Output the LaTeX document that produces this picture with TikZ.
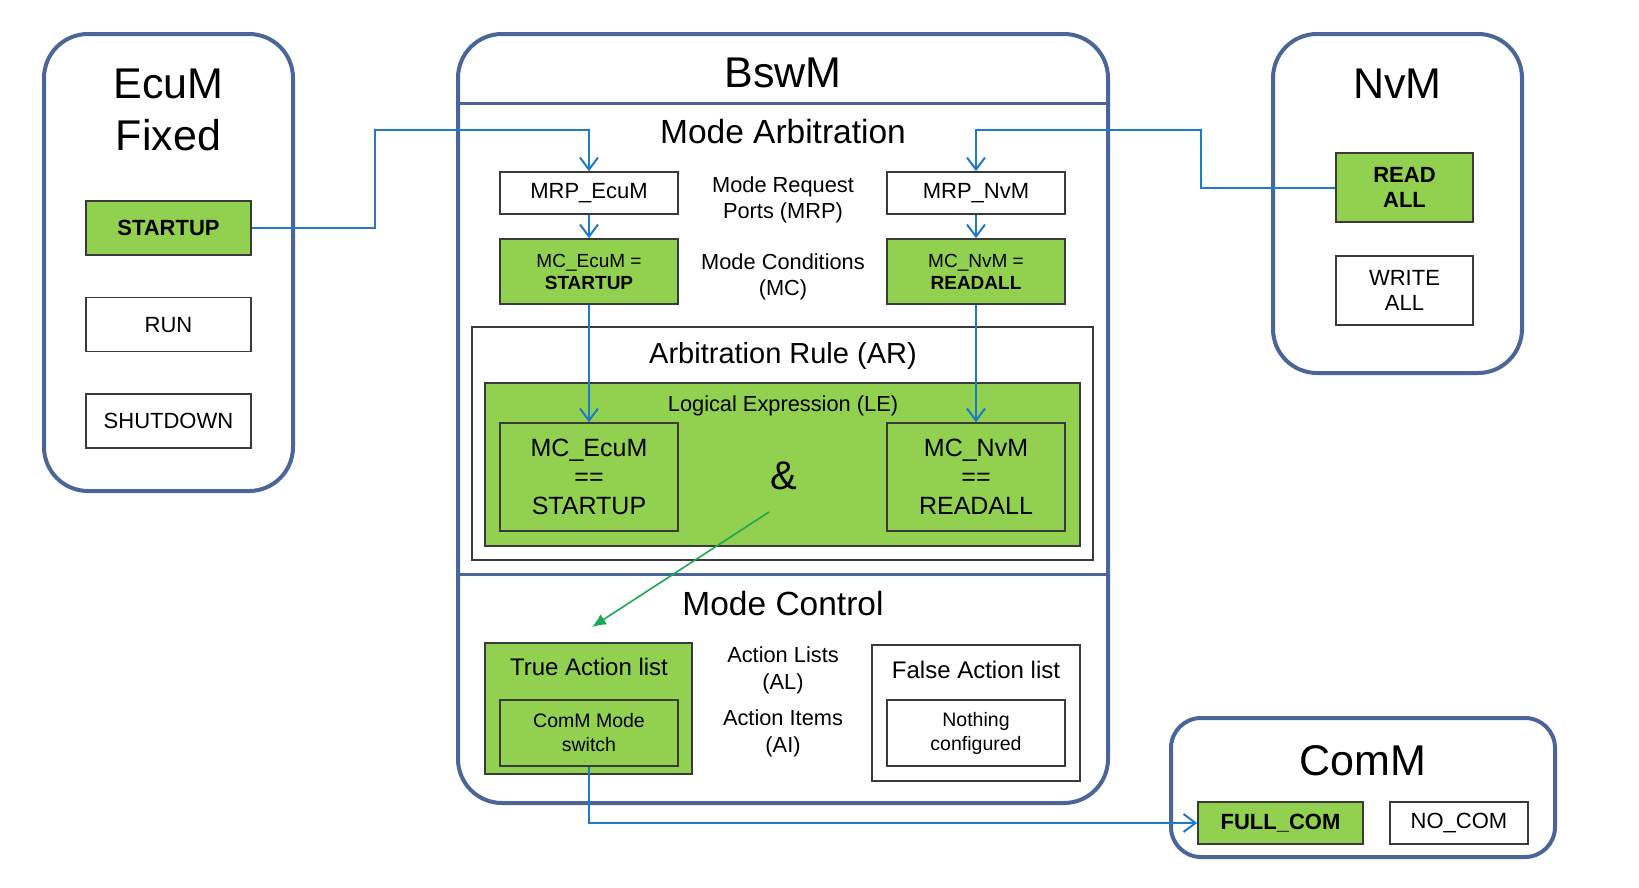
\documentclass[tikz,border=0pt]{standalone}
\usepackage{fontspec}
\setmainfont{Liberation Sans}
\usetikzlibrary{arrows.meta, positioning, calc}
\definecolor{modblue}{HTML}{4A6699}
\definecolor{linkblue}{HTML}{1F7AC9}
\definecolor{actgreen}{HTML}{92D050}
\definecolor{edgegray}{HTML}{3A3A3A}
\definecolor{exprgreen}{HTML}{1AAA55}

\begin{document}
\begin{tikzpicture}[
    x=1pt, y=-1pt,
    module/.style={draw=modblue, line width=4pt, rounded corners=44pt, inner sep=0pt},
    statebox/.style={draw=edgegray, line width=1.6pt, fill=white, inner sep=0pt, align=center, font=\fontsize{22}{25}\selectfont},
    activebox/.style={statebox, fill=actgreen},
    title/.style={font=\fontsize{43}{52}\selectfont, align=center},
    heading/.style={font=\fontsize{33.5}{38}\selectfont},
    caption/.style={font=\fontsize{21.8}{26}\selectfont, align=center},
    link/.style={draw=linkblue, line width=2pt, -{Straight Barb[length=12pt, width=18pt, line width=2pt]}}
]
    \useasboundingbox (0,0) rectangle (1639,887);

    % EcuM Fixed
    \node[module, minimum width=249pt, minimum height=457pt] (ecum) at (168.5,262.5) {};
    \node[title] (ecumtitle) at (168.5,110) {EcuM\\Fixed};
    \node[activebox, minimum width=165pt, minimum height=54pt] (startup) at (168.5,228) {\textbf{STARTUP}};
    \node[statebox, minimum width=165pt, minimum height=54pt, below=41pt of startup] (run) {RUN};
    \node[statebox, minimum width=165pt, minimum height=54pt, below=41pt of run] (shutdown) {SHUTDOWN};

    % BswM
    \node[module, minimum width=650pt, minimum height=769pt] (bswm) at (783,418.5) {};
    \node[title] (bswmtitle) at (783,73) {BswM};
    \coordinate (sepa) at (0,103);
    \coordinate (sepb) at (0,574);
    \draw[modblue, line width=3pt] (bswm.west |- sepa) -- (bswm.east |- sepa);
    \draw[modblue, line width=3pt] (bswm.west |- sepb) -- (bswm.east |- sepb);

    % mode arbitration
    \node[heading] (arbtitle) at (783,132) {Mode Arbitration};
    \node[statebox, minimum width=178pt, minimum height=42pt] (mrpecum) at (589,193) {MRP\_EcuM};
    \node[statebox, minimum width=178pt, minimum height=42pt] (mrpnvm) at (976,193) {MRP\_NvM};
    \node[caption] (mrplabel) at (783,200) {Mode Request\\Ports (MRP)};
    \node[activebox, minimum width=178pt, minimum height=65pt, font=\fontsize{19}{22}\selectfont] (mcecum) at (589,271.5) {MC\_EcuM =\\\textbf{STARTUP}};
    \node[activebox, minimum width=178pt, minimum height=65pt, font=\fontsize{19}{22}\selectfont] (mcnvm) at (976,271.5) {MC\_NvM =\\\textbf{READALL}};
    \node[caption] (mclabel) at (783,277) {Mode Conditions\\(MC)};

    \node[statebox, minimum width=621pt, minimum height=233pt] (arbox) at (782.5,443.5) {};
    \node[font=\fontsize{29}{34}\selectfont] (artitle) at (783,356) {Arbitration Rule (AR)};
    \node[activebox, minimum width=595pt, minimum height=163pt] (lebox) at (782.5,464.5) {};
    \node[caption] (letitle) at (783,406) {Logical Expression (LE)};
    \node[activebox, minimum width=178pt, minimum height=108pt, font=\fontsize{25}{29}\selectfont] (leecum) at (589,477) {MC\_EcuM\\==\\STARTUP};
    \node[activebox, minimum width=178pt, minimum height=108pt, font=\fontsize{25}{29}\selectfont] (lenvm) at (976,477) {MC\_NvM\\==\\READALL};
    \node[font=\fontsize{40}{48}\selectfont] (andsign) at (784,476) {\&};

    % mode control
    \node[heading] (ctrltitle) at (783,604) {Mode Control};
    \node[activebox, minimum width=207pt, minimum height=131pt] (truelist) at (588.5,708.5) {};
    \node[font=\fontsize{24}{28}\selectfont] (truetitle) at (589,667) {True Action list};
    \node[activebox, minimum width=178pt, minimum height=66pt, font=\fontsize{19.5}{24}\selectfont] (commswitch) at (589,733) {ComM Mode\\switch};
    \node[statebox, minimum width=208pt, minimum height=136pt] (falselist) at (976,713) {};
    \node[font=\fontsize{24}{28}\selectfont] (falsetitle) at (976,670) {False Action list};
    \node[statebox, minimum width=178pt, minimum height=66pt, font=\fontsize{19.5}{24}\selectfont] (nothing) at (976,733) {Nothing\\configured};
    \node[caption, font=\fontsize{21.8}{27}\selectfont] (allabel) at (783,670) {Action Lists\\(AL)};
    \node[caption, font=\fontsize{21.8}{27}\selectfont] (ailabel) at (783,733) {Action Items\\(AI)};

    % NvM
    \node[module, minimum width=249pt, minimum height=339pt] (nvm) at (1397.5,203.5) {};
    \node[title] (nvmtitle) at (1397.5,84) {NvM};
    \node[activebox, minimum width=137pt, minimum height=69pt] (readall) at (1404.5,187.5) {\textbf{READ}\\\textbf{ALL}};
    \node[statebox, minimum width=137pt, minimum height=69pt] (writeall) at (1404.5,290.5) {WRITE\\ALL};

    % ComM
    \node[module, rounded corners=30pt, minimum width=384pt, minimum height=139pt] (comm) at (1363,787.5) {};
    \node[title] (commtitle) at (1363,761) {ComM};
    \node[activebox, minimum width=165pt, minimum height=42pt] (fullcom) at (1280.5,823) {\textbf{FULL\_COM}};
    \node[statebox, minimum width=138pt, minimum height=42pt] (nocom) at (1459,823) {NO\_COM};

    % connectors
    \coordinate (ecumbend) at (375,130);
    \coordinate (nvmbend) at (1201,130);
    \coordinate (andfoot) at (769,512);
    \coordinate (truetip) at (592,627);
    \draw[link] (startup.east) -| (ecumbend) -| (mrpecum.north);
    \draw[link] (readall.west) -| (nvmbend) -| (mrpnvm.north);
    \draw[link] (mrpecum) -- (mcecum);
    \draw[link] (mrpnvm) -- (mcnvm);
    \draw[link] (mcecum) -- (leecum);
    \draw[link] (mcnvm) -- (lenvm);
    \draw[exprgreen, line width=1.6pt, -{Latex[length=14pt, width=12pt]}] (andfoot) -- (truetip);
    \draw[link] (commswitch.south) |- (fullcom.west);
\end{tikzpicture}
\end{document}
